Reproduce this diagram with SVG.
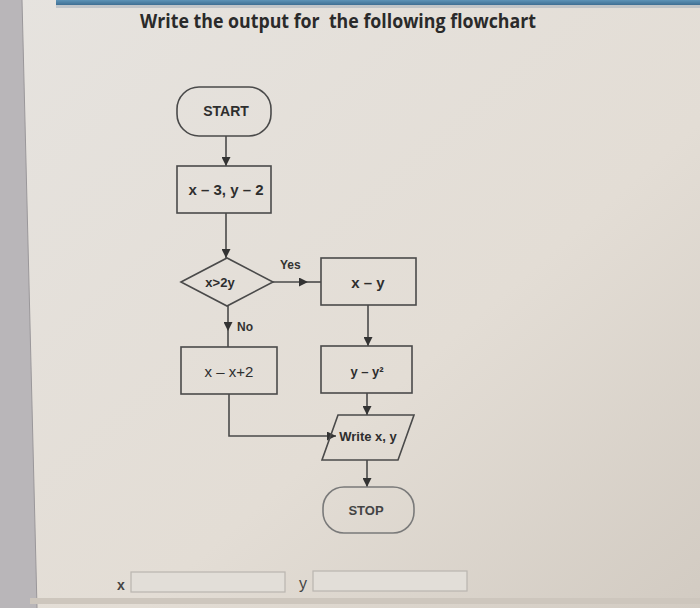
<svg xmlns="http://www.w3.org/2000/svg" width="700" height="608" viewBox="0 0 700 608">
<defs>
<linearGradient id="bg" x1="0" y1="0" x2="1" y2="1">
<stop offset="0" stop-color="#e6e3df"/>
<stop offset="0.6" stop-color="#e3ddd5"/>
<stop offset="1" stop-color="#d2cbc2"/>
</linearGradient>
<linearGradient id="bar" x1="0" y1="0" x2="0" y2="1">
<stop offset="0" stop-color="#5d93b7"/>
<stop offset="1" stop-color="#3f6f93"/>
</linearGradient>
<marker id="ah" viewBox="0 0 10 10" refX="10" refY="5" markerWidth="9" markerHeight="9" markerUnits="userSpaceOnUse" orient="auto">
<path d="M0,0 L10,5 L0,10 z" fill="#333"/>
</marker>
</defs>
<style>
.shape{fill:none;stroke:#4a4a4a;stroke-width:1.6}
.light{fill:none;stroke:#7a7a7a;stroke-width:1.6}
.conn{fill:none;stroke:#4a4a4a;stroke-width:1.6}
.t{font-family:"Liberation Sans",Arial,sans-serif;font-weight:bold;font-size:14px;fill:#2e2e2e;text-anchor:middle}
.lbl{font-family:"Liberation Sans",Arial,sans-serif;font-weight:bold;font-size:12px;fill:#333}
.title{font-family:"Open Sans","Liberation Sans",Arial,sans-serif;font-weight:bold;font-size:19.5px;fill:#2a2a2a}
.inp{fill:#e2ded8;stroke:#b9b5b0;stroke-width:1.2}
</style>
<rect x="0" y="0" width="700" height="608" fill="url(#bg)"/>
<polygon points="0,0 22,0 37,608 0,608" fill="#b9b6b9"/>
<line x1="22" y1="0" x2="37" y2="608" stroke="#9a979a" stroke-width="1"/>
<rect x="56" y="0" width="644" height="5" fill="url(#bar)"/>
<rect x="56" y="5" width="644" height="3" fill="#a9b3bd" opacity="0.6"/>
<rect x="30" y="598" width="670" height="6" fill="#cdc6bd"/>

<text class="title" x="140" y="28" textLength="396" lengthAdjust="spacingAndGlyphs">Write the output for&#160; the following flowchart</text>

<g id="connectors">
<line class="conn" x1="226" y1="136" x2="226" y2="166" marker-end="url(#ah)"/>
<line class="conn" x1="226" y1="213" x2="226" y2="258" marker-end="url(#ah)"/>
<line class="conn" x1="273" y1="282" x2="308" y2="282" marker-end="url(#ah)"/>
<line class="conn" x1="308" y1="282" x2="321" y2="282"/>
<line class="conn" x1="228" y1="306" x2="228" y2="331" marker-end="url(#ah)"/>
<line class="conn" x1="228" y1="331" x2="228" y2="347"/>
<line class="conn" x1="368" y1="305" x2="368" y2="346" marker-end="url(#ah)"/>
<line class="conn" x1="367" y1="393" x2="367" y2="415" marker-end="url(#ah)"/>
<polyline class="conn" points="229,394 229,436 336,436" marker-end="url(#ah)"/>
<line class="conn" x1="367" y1="460" x2="367" y2="487" marker-end="url(#ah)"/>
<text class="lbl" x="280" y="269">Yes</text>
<text class="lbl" x="237" y="331">No</text>
</g>

<g id="start">
<rect class="shape" x="177" y="87" width="94" height="49" rx="22" ry="22"/>
<text class="t" x="226" y="116">START</text>
</g>
<g id="init">
<rect class="shape" x="177" y="166" width="94" height="47"/>
<text class="t" x="226" y="195" style="font-size:15px">x – 3, y – 2</text>
</g>
<g id="decision">
<polygon class="shape" points="181,282 227,258 273,282 227,306"/>
<text class="t" x="220" y="287" style="font-size:13px">x&gt;2y</text>
</g>
<g id="assign-x-y">
<rect class="shape" x="321" y="258" width="95" height="47"/>
<text class="t" x="368" y="288" style="font-size:15px">x – y</text>
</g>
<g id="assign-x-plus">
<rect class="shape" x="181" y="347" width="96" height="47"/>
<text class="t" x="229" y="377" style="font-weight:normal;font-size:15px">x – x+2</text>
</g>
<g id="assign-y">
<rect class="shape" x="321" y="346" width="91" height="47"/>
<text class="t" x="367" y="376" style="font-size:13px">y – y²</text>
</g>
<g id="write">
<polygon class="shape" points="338,415 414,415 398,460 322,460"/>
<text class="t" x="368" y="441" style="font-size:13px">Write x, y</text>
</g>
<g id="stop">
<rect class="light" x="323" y="487" width="91" height="46" rx="21" ry="21"/>
<text class="t" x="366" y="515" style="font-size:13px;fill:#444">STOP</text>
</g>

<g id="answers">
<text x="121" y="590" style="font-family:'Liberation Sans',Arial,sans-serif;font-weight:bold;font-size:14px;fill:#444;text-anchor:middle">x</text>
<rect class="inp" x="131" y="572" width="154" height="20"/>
<text x="303" y="589" style="font-family:'Liberation Sans',Arial,sans-serif;font-size:16px;fill:#444;text-anchor:middle">y</text>
<rect class="inp" x="313" y="571" width="154" height="20"/>
</g>
</svg>
